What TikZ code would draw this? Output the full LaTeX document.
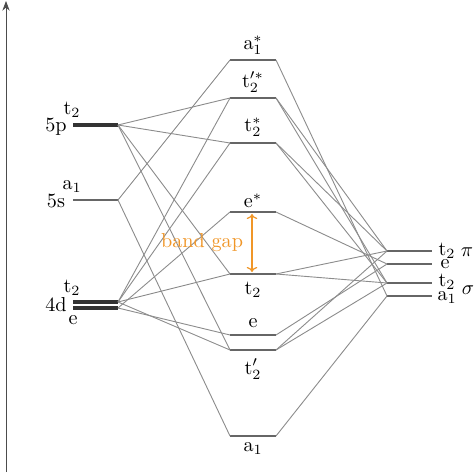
\documentclass[tikz,border=0pt]{standalone}
\usepackage{amsmath}
\usepackage{xcolor}
\usetikzlibrary{arrows.meta}
\definecolor{gaporange}{RGB}{240,150,40}

\begin{document}
\begin{tikzpicture}[x=0.0174cm,y=-0.0174cm,>=stealth,
  level/.style={line width=0.9pt,black!60},
  thicklevel/.style={line width=1.7pt,black!80},
  link/.style={line width=0.45pt,black!45},
  rlab/.style={inner sep=0pt,text height=1.2ex,text depth=0.1ex}]
\useasboundingbox(0,0)rectangle(474,474);
% energy axis
\coordinate(axlow) at (6,472);
\coordinate(axtop) at (6,1);
\draw[-Stealth,black!70](axlow)--(axtop);
% metal levels
\foreach \name/\y/\sty in {p5/125/thicklevel,s5/200/level,dt/302/thicklevel,de/308/thicklevel}{
  \coordinate(\name-l) at (73,\y);
  \coordinate(\name-r) at (118,\y);
  \draw[\sty](\name-l)--(\name-r);}
\node(p5-txt) at (56,127){5p};
\node(p5-sym) at (72,110){$\mathrm{t_2}$};
\node(s5-txt) at (56,201){5s};
\node(s5-sym) at (72,187){$\mathrm{a_1}$};
\node(d4-txt) at (56,305){4d};
\node(dt-sym) at (72,288){$\mathrm{t_2}$};
\node(de-sym) at (73,320){$\mathrm{e}$};
% molecular levels
\foreach \name/\y in {aS/60,tpS/98,tS/143,eS/212,tB/274,eB/335,tpB/350,aB/436}{
  \coordinate(\name-l) at (230,\y);
  \coordinate(\name-r) at (276,\y);
  \draw[level](\name-l)--(\name-r);}
\node(aS-txt) at (253,45){$\mathrm{a}_1^{*}$};
\node(tpS-txt) at (253,82){$\mathrm{t}_2^{\prime *}$};
\node(tS-txt) at (253,127){$\mathrm{t}_2^{*}$};
\node(eS-txt) at (253,201){$\mathrm{e}^{*}$};
\node(tB-txt) at (253,290){$\mathrm{t_2}$};
\node(eB-txt) at (253,323){$\mathrm{e}$};
\node(tpB-txt) at (253,369){$\mathrm{t}_2^{\prime}$};
\node(aB-txt) at (253,449){$\mathrm{a_1}$};
% ligand levels
\foreach \name/\y in {tpi/251,epi/264,tsig/283,asig/296}{
  \coordinate(\name-l) at (387,\y);
  \coordinate(\name-r) at (432,\y);
  \draw[level](\name-l)--(\name-r);}
\node[rlab](tpi-txt) at (447,251){$\mathrm{t_2}$};
\node[rlab](epi-txt) at (445,264){$\mathrm{e}$};
\node[rlab](tsig-txt) at (447,282){$\mathrm{t_2}$};
\node[rlab](asig-txt) at (447,296){$\mathrm{a_1}$};
\node[rlab](pi-txt) at (467,252){$\pi$};
\node[rlab](sig-txt) at (468,290){$\sigma$};
% correlation lines
\foreach \a/\b in {p5/tpS,p5/tS,p5/tB,p5/tpB,s5/aS,s5/aB,dt/tpS,dt/tS,dt/tB,dt/tpB,de/eS,de/eB}
  \draw[link](\a-r)--(\b-l);
\foreach \a/\b in {aS/asig,aB/asig,tpS/tpi,tpS/tsig,tS/tpi,tS/tsig,tB/tpi,tB/tsig,tpB/tpi,tpB/tsig,eS/epi,eB/epi}
  \draw[link](\a-r)--(\b-l);
% band gap
\coordinate(gaptop) at (252,214);
\coordinate(gapbot) at (252,272);
\draw[{To[length=2.5pt]}-{To[length=2.5pt]},gaporange,line width=0.6pt](gaptop)--(gapbot);
\node[text=gaporange](gap-txt) at (202,243){band gap};
\end{tikzpicture}
\end{document}
